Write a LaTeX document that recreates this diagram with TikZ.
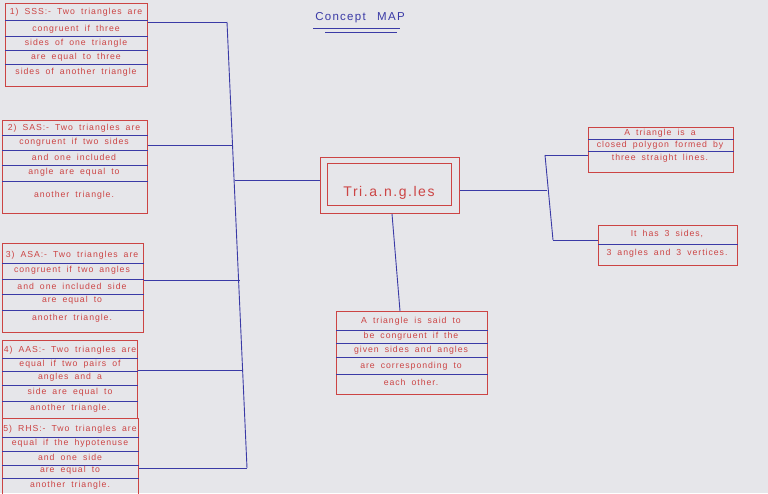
\documentclass[tikz,border=0pt]{standalone}
\usepackage{fontspec}
\setmainfont{Liberation Sans}[LetterSpace=11.0, WordSpace=1.8]
\definecolor{paper}{HTML}{E6E6EA}
\definecolor{redink}{HTML}{CC4444}
\definecolor{blueink}{HTML}{3A3AA6}
\tikzset{
  box/.style={draw=redink, line width=0.8pt, inner sep=0pt, anchor=north west},
  rule/.style={draw=blueink, line width=0.8pt},
  conn/.style={draw=blueink, line width=0.9pt},
  txt/.style={text=redink, font=\fontsize{8.7}{9}\selectfont, inner sep=0pt},
  big/.style={text=redink, font=\fontsize{14}{16}\selectfont, inner sep=0pt},
  title/.style={text=blueink, font=\fontsize{11.5}{13}\selectfont, inner sep=0pt}
}
\begin{document}
\begin{tikzpicture}[x=1pt,y=-1pt]
\fill[paper] (0,0) rectangle (768,493);
\useasboundingbox (0,0) rectangle (768,493);

% title
\node[title] (ttl) at (360,18) {Concept\quad MAP};
\draw[rule] (313,28) -- (400,28);
\draw[rule] (325,32) -- (397,32);

% central node
\node[box, minimum width=139pt, minimum height=56pt] (tri) at (320,157) {};
\node[box, minimum width=124pt, minimum height=42pt] (triin) at (327,163) {};
\node[big] (tritxt) at (389,193) {Tri.a.n.g.les};

% ---- left boxes ----
\node[box, minimum width=142pt, minimum height=83pt] (b1) at (5,3) {};
\foreach \yy in {20,36,50,64} \draw[rule] (b1.west |- 0,\yy) -- (b1.east |- 0,\yy);
\node[txt] (b1a) at (76,12) {1) SSS:- Two triangles are};
\node[txt] (b1b) at (76,29) {congruent if three};
\node[txt] (b1c) at (76,43) {sides of one triangle};
\node[txt] (b1d) at (76,57) {are equal to three};
\node[txt] (b1e) at (76,72) {sides of another triangle};

\node[box, minimum width=145pt, minimum height=93pt] (b2) at (2,120) {};
\foreach \yy in {135,150,165,181} \draw[rule] (b2.west |- 0,\yy) -- (b2.east |- 0,\yy);
\node[txt] (b2a) at (74,128) {2) SAS:- Two triangles are};
\node[txt] (b2b) at (74,142) {congruent if two sides};
\node[txt] (b2c) at (74,157) {and one included};
\node[txt] (b2d) at (74,172) {angle are equal to};
\node[txt] (b2e) at (74,195) {another triangle.};

\node[box, minimum width=141pt, minimum height=89pt] (b3) at (2,243) {};
\foreach \yy in {263,279,294,310} \draw[rule] (b3.west |- 0,\yy) -- (b3.east |- 0,\yy);
\node[txt] (b3a) at (72,255) {3) ASA:- Two triangles are};
\node[txt] (b3b) at (72,270) {congruent if two angles};
\node[txt] (b3c) at (72,286) {and one included side};
\node[txt] (b3d) at (72,300) {are equal to};
\node[txt] (b3e) at (72,318) {another triangle.};

\node[box, minimum width=135pt, minimum height=78pt] (b4) at (2,340) {};
\foreach \yy in {358,371,385,401} \draw[rule] (b4.west |- 0,\yy) -- (b4.east |- 0,\yy);
\node[txt] (b4a) at (70,350) {4) AAS:- Two triangles are};
\node[txt] (b4b) at (70,364) {equal if two pairs of};
\node[txt] (b4c) at (70,377) {angles and a};
\node[txt] (b4d) at (70,392) {side are equal to};
\node[txt] (b4e) at (70,408) {another triangle.};

\node[box, minimum width=136pt, minimum height=76pt] (b5) at (2,418) {};
\foreach \yy in {437,451,465,478} \draw[rule] (b5.west |- 0,\yy) -- (b5.east |- 0,\yy);
\node[txt] (b5a) at (70,429) {5) RHS:- Two triangles are};
\node[txt] (b5b) at (70,443) {equal if the hypotenuse};
\node[txt] (b5c) at (70,457) {and one side};
\node[txt] (b5d) at (70,470) {are equal to};
\node[txt] (b5e) at (70,485) {another triangle.};

% ---- right boxes ----
\node[box, minimum width=145pt, minimum height=45pt] (ra) at (588,127) {};
\foreach \yy in {139,151} \draw[rule] (ra.west |- 0,\yy) -- (ra.east |- 0,\yy);
\node[txt] (raa) at (660,133) {A triangle is a};
\node[txt] (rab) at (660,145) {closed polygon formed by};
\node[txt] (rac) at (660,158) {three straight lines.};

\node[box, minimum width=139pt, minimum height=40pt] (rb) at (598,225) {};
\draw[rule] (rb.west |- 0,244) -- (rb.east |- 0,244);
\node[txt] (rba) at (667,234) {It has 3 sides,};
\node[txt] (rbb) at (667,253) {3 angles and 3 vertices.};

% ---- bottom box ----
\node[box, minimum width=151pt, minimum height=83pt] (bc) at (336,311) {};
\foreach \yy in {330,343,357,374} \draw[rule] (bc.west |- 0,\yy) -- (bc.east |- 0,\yy);
\node[txt] (bca) at (411,321) {A triangle is said to};
\node[txt] (bcb) at (411,336) {be congruent if the};
\node[txt] (bcc) at (411,350) {given sides and angles};
\node[txt] (bcd) at (411,366) {are corresponding to};
\node[txt] (bce) at (411,382) {each other.};

% ---- connectors ----
\coordinate (sp1) at (227,22);
\coordinate (sp2) at (233,145);
\coordinate (spm) at (235,180);
\coordinate (sp3) at (240,280);
\coordinate (sp4) at (243,370);
\coordinate (sp5) at (247,468);
\draw[conn] (sp1) -- (sp5);
\draw[conn] (b1.east |- sp1) -- (sp1);
\draw[conn] (b2.east |- sp2) -- (sp2);
\draw[conn] (b3.east |- sp3) -- (sp3);
\draw[conn] (b4.east |- sp4) -- (sp4);
\draw[conn] (b5.east |- sp5) -- (sp5);
\draw[conn] (spm) -- (tri.west |- spm);

\coordinate (rs) at (547,190);
\coordinate (rt) at (545,155);
\coordinate (rbm) at (553,240);
\draw[conn] (tri.east |- rs) -- (rs);
\draw[conn] (rt) -- (rbm);
\draw[conn] (rt) -- (ra.west |- rt);
\draw[conn] (rbm) -- (rb.west |- rbm);

\draw[conn] (tri.south -| 392,0) -- (bc.north -| 400,0);
\end{tikzpicture}
\end{document}
